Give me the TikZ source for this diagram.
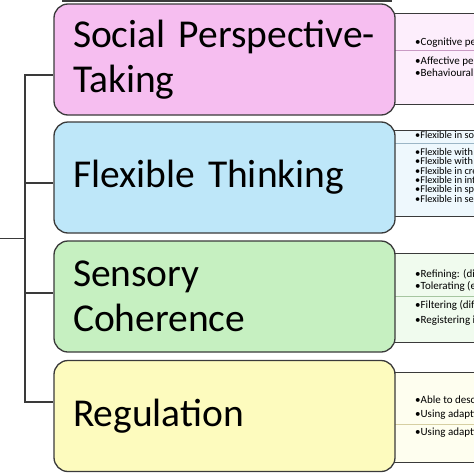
\documentclass[tikz,border=0pt]{standalone}
\usepackage{fontspec}
\setmainfont{Carlito}
\usepackage{tikz}

\definecolor{boxline}{HTML}{3A3A3A}
\definecolor{socialfill}{HTML}{F6BEF0}
\definecolor{socialnote}{HTML}{FDEEFC}
\definecolor{socialdiv}{HTML}{C99AC4}
\definecolor{flexfill}{HTML}{BEE7F9}
\definecolor{flexnote}{HTML}{EEF8FD}
\definecolor{flexdiv}{HTML}{9BB6C6}
\definecolor{sensfill}{HTML}{C6F0C1}
\definecolor{sensnote}{HTML}{F0FBEE}
\definecolor{sensdiv}{HTML}{A6C6A0}
\definecolor{regfill}{HTML}{FDFBBE}
\definecolor{regnote}{HTML}{FEFEEF}
\definecolor{regdiv}{HTML}{D6CFA2}

\begin{document}
\begin{tikzpicture}[x=1pt, y=-1pt,
    catbox/.style={draw=boxline, line width=1.3pt, rounded corners=14pt,
      minimum width=341pt, minimum height=111pt, text width=303pt,
      inner xsep=19pt, align=left, font=\fontsize{39.5}{45}\selectfont},
    notepanel/.style={draw=boxline, line width=1pt},
    notetext/.style={anchor=base west, inner sep=0pt, align=left,
      font=\fontsize{11}{12.3}\selectfont},
    treeline/.style={draw=boxline, line width=1.2pt}]
  \useasboundingbox (0,0) rectangle (474,474);
  \clip (0,0) rectangle (474,474);

  % Edge of the box above
  \fill[boxline] (62,0) rectangle (392,2);

  % Note panels
  \draw[notepanel, fill=socialnote] (380,13) rectangle (520,104);
  \draw[socialdiv, line width=0.8pt] (380,50) -- (520,50);
  \draw[notepanel, fill=flexnote] (380,130) rectangle (520,216);
  \draw[flexdiv, line width=0.8pt] (380,143.3) -- (520,143.3);
  \draw[notepanel, fill=sensnote] (380,253) rectangle (520,342);
  \draw[sensdiv, line width=0.8pt] (380,296.7) -- (520,296.7);
  \draw[notepanel, fill=regnote] (380,372) rectangle (520,462);
  \draw[regdiv, line width=0.8pt] (380,424.3) -- (520,424.3);

  % Note texts (placed at the baseline of their last line)
  \node[notetext] (spnotea) at (415,45.3) {•Cognitive perspective-taking};
  \node[notetext] (spnoteb) at (415,76.3) {•Affective perspective-taking\\•Behavioural perspective-taking};
  \node[notetext, font=\fontsize{10.3}{9.4}\selectfont] (ftnotea) at (415,138) {•Flexible in social situations};
  \node[notetext, font=\fontsize{10.3}{9.4}\selectfont] (ftnoteb) at (415,202.3)
    {•Flexible with routines\\•Flexible with change\\•Flexible in creative thinking\\%
     •Flexible in interests\\•Flexible in spontaneous play\\•Flexible in self-expression};
  \node[notetext] (scnotea) at (415,289.6) {•Refining: (differentiating)\\•Tolerating (e.g. noise)};
  \node[notetext, font=\fontsize{11}{14.3}\selectfont] (scnoteb) at (415,323) {•Filtering (differentiating)\\•Registering input};
  \node[notetext, font=\fontsize{11}{14.3}\selectfont] (rgnotea) at (415,417.3) {•Able to describe feelings\\•Using adaptive strategies};
  \node[notetext] (rgnoteb) at (415,435.3) {•Using adaptive behaviours};

  % Category boxes
  \node[catbox, fill=socialfill] (social) at (224.5,59.5) {Social~Perspective-\\Taking};
  \node[catbox, fill=flexfill] (flexible) at (224.5,177.5) {Flexible Thinking};
  \node[catbox, fill=sensfill] (sensory) at (224.5,296.5) {Sensory\\Coherence};
  \node[catbox, fill=regfill] (regulation) at (224.5,416) {Regulation};

  % Tree
  \coordinate (root) at (0,238.5);
  \coordinate (hub) at (25,238.5);
  \draw[treeline] (root) -- (hub);
  \draw[treeline] (hub) |- ([yshift=-15.5pt]social.west);
  \draw[treeline] (hub) |- ([yshift=-5.5pt]flexible.west);
  \draw[treeline] (hub) |- ([yshift=3.5pt]sensory.west);
  \draw[treeline] (hub) |- ([yshift=14pt]regulation.west);
\end{tikzpicture}
\end{document}
